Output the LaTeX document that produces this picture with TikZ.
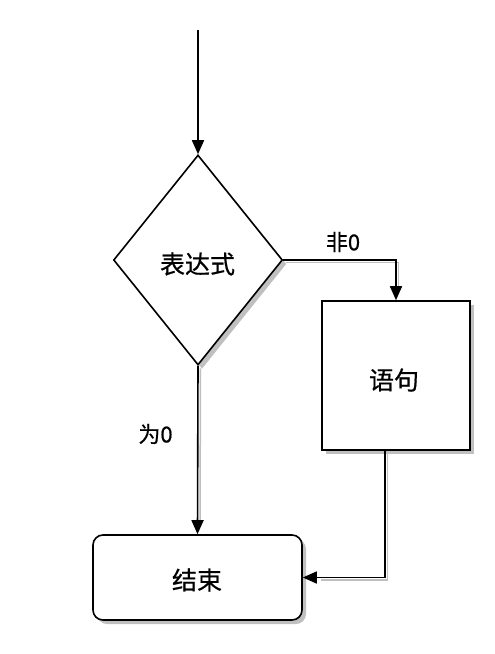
\documentclass[tikz,border=0pt]{standalone}
\usepackage{fontspec}
\setmainfont{Noto Sans CJK SC}[FakeBold=0.6]
\usetikzlibrary{shapes.geometric,arrows.meta,shadows}
\begin{document}
\begin{tikzpicture}[x=1pt,y=-1pt,
  txt/.style={font=\fontsize{25}{29}\selectfont},
  shd/.style={drop shadow={shadow xshift=4pt,shadow yshift=-4pt,fill=black!35,opacity=0.7}},
  decision/.style={draw=black,line width=1.6pt,fill=white,shape=diamond,inner sep=0pt,minimum width=169pt,minimum height=210pt,shd},
  stmtbox/.style={draw=black,line width=1.6pt,fill=white,rectangle,inner sep=0pt,minimum width=148pt,minimum height=149pt,shd},
  endbox/.style={draw=black,line width=1.6pt,fill=white,rectangle,rounded corners=10pt,inner sep=0pt,minimum width=209pt,minimum height=85pt,shd},
  conn/.style={draw=black,line width=1.6pt,-{Triangle[length=14pt,width=12pt]}},
  connshd/.style={draw=black!25,line width=1.5pt,transform canvas={xshift=2.5pt,yshift=-2.5pt}},
  lbl/.style={font=\fontsize{22}{26}\selectfont}
]
\useasboundingbox[fill=white] (0,0) rectangle (495,654);
\coordinate (start) at (198,30);
\node[decision] (dia) at (198,260) {};
\node[txt] (t1) at (197.5,264) {表达式};
\node[stmtbox] (stmt) at (396,375.5) {};
\node[txt] (t2) at (394,380) {语句};
\node[endbox] (fin) at (197.5,577.5) {};
\node[txt] (t3) at (197,580) {结束};
\node[lbl] (l1) at (343,242) {非0};
\node[lbl] (l2) at (155.5,434) {为0};
% connector shadows
\draw[connshd] (dia.east) -| ([yshift=16pt]stmt.north);
\draw[connshd] (dia.south) -- ([yshift=16pt]fin.north);
\draw[connshd] ([xshift=-11pt]stmt.south) |- ([xshift=16pt]fin.east);
% connectors
\draw[conn] (start) -- (dia.north);
\draw[conn] (dia.east) -| (stmt.north);
\draw[conn] (dia.south) -- (fin.north);
\draw[conn] ([xshift=-11pt]stmt.south) |- (fin.east);
\end{tikzpicture}
\end{document}
